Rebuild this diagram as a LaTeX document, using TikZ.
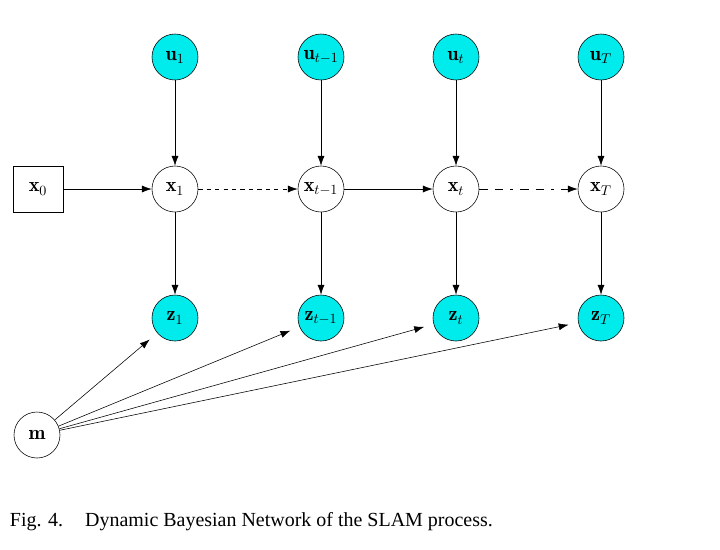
\documentclass[tikz,border=0pt]{standalone}
\usepackage{amsmath}
\usepackage{fontspec}
\newfontfamily\capfont{Liberation Serif}
\usepackage{tikz}
\usetikzlibrary{arrows.meta}
\definecolor{obscyan}{RGB}{0,235,235}

\begin{document}
\begin{tikzpicture}[x=0.025cm, y=-0.025cm,
    obs/.style={circle, draw, fill=obscyan, minimum size=1.15cm, inner sep=0pt, font=\Large},
    hid/.style={circle, draw, fill=white, minimum size=1.15cm, inner sep=0pt, font=\Large},
    arr/.style={arrows = {-Latex[width=5pt, length=7pt]}}]
\useasboundingbox (0, 0) rectangle (720, 549);

\node[draw, minimum width=1.25cm, minimum height=1.15cm, font=\Large] (x0) at (38, 189) {$\mathbf{x}_0$};
\node[hid] (x1) at (175, 189) {$\mathbf{x}_1$};
\node[hid] (xtm) at (321, 189) {$\mathbf{x}_{t-1}$};
\node[hid] (xt) at (456, 189) {$\mathbf{x}_t$};
\node[hid] (xT) at (601, 189) {$\mathbf{x}_T$};
\node[obs] (u1) at (175, 57) {$\mathbf{u}_1$};
\node[obs] (utm) at (321, 57) {$\mathbf{u}_{t-1}$};
\node[obs] (ut) at (456, 57) {$\mathbf{u}_t$};
\node[obs] (uT) at (601, 57) {$\mathbf{u}_T$};
\node[obs] (z1) at (175, 318) {$\mathbf{z}_1$};
\node[obs] (ztm) at (321, 318) {$\mathbf{z}_{t-1}$};
\node[obs] (zt) at (456, 318) {$\mathbf{z}_t$};
\node[obs] (zT) at (601, 318) {$\mathbf{z}_T$};
\node[hid] (m) at (37, 435) {$\mathbf{m}$};

\draw[arr] (x0) -- (x1);
\draw[arr, dashed] (x1) -- (xtm);
\draw[arr] (xtm) -- (xt);
\draw[arr, dash pattern=on 6pt off 5pt on 6pt off 5pt on 2pt off 5pt] (xt) -- (xT);
\foreach \n in {1, tm, t, T} {
    \draw[arr] (u\n) -- (x\n);
    \draw[arr] (x\n) -- (z\n);
    \draw[arr, shorten >=7pt] (m) -- (z\n);
}

\node[anchor=west, font=\capfont\fontsize{14.2}{17}\selectfont] (caption) at (5, 522)
    {Fig. 4.\hspace{1.1em}Dynamic Bayesian Network of the SLAM process.};
\end{tikzpicture}
\end{document}
